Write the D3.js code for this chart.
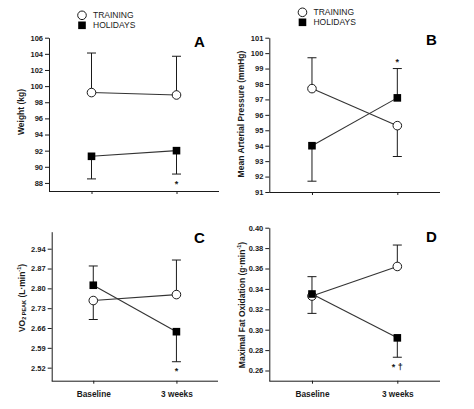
<!DOCTYPE html>
<html>
<head>
<meta charset="utf-8">
<script src="https://cdn.jsdelivr.net/npm/d3@7"></script>
<style>
  body { margin: 0; background: #fff; }
  svg { display: block; font-family: Arial, "Liberation Sans", sans-serif; }
</style>
</head>
<body>
<div id="chart"></div>
<script>
// categories on the x axis
const categories = ["Baseline", "3 weeks"];
const seriesNames = ["TRAINING", "HOLIDAYS"];

// A - weight (kg): mean and SD
const weightTraining = [99.2, 98.9];
const weightTrainingSd = [4.9, 4.8];
const weightHolidays = [91.3, 92.0];
const weightHolidaysSd = [2.8, 2.9];
const weightTicks = [88, 90, 92, 94, 96, 98, 100, 102, 104, 106];

// B - mean arterial pressure (mmHg)
const mapTraining = [97.7, 95.3];
const mapTrainingSd = [2.0, 2.0];
const mapHolidays = [94.0, 97.1];
const mapHolidaysSd = [2.3, 1.9];
const mapTicks = [91, 92, 93, 94, 95, 96, 97, 98, 99, 100, 101];

// C - VO2 peak (L/min)
const vo2Training = [2.757, 2.778];
const vo2TrainingSd = [0.067, 0.122];
const vo2Holidays = [2.811, 2.647];
const vo2HolidaysSd = [0.068, 0.106];
const vo2Ticks = [2.52, 2.59, 2.66, 2.73, 2.80, 2.87, 2.94];

// D - maximal fat oxidation (g/min)
const mfoTraining = [0.333, 0.362];
const mfoTrainingSd = [0.017, 0.021];
const mfoHolidays = [0.335, 0.292];
const mfoHolidaysSd = [0.017, 0.019];
const mfoTicks = [0.26, 0.28, 0.30, 0.32, 0.34, 0.36, 0.38, 0.40];

// significance marks at "3 weeks"
const marksA = "*", marksB = "*", marksC = "*", marksD = "* \u2020";

const W = 474, H = 409;
const svg = d3.select("#chart").append("svg")
    .attr("width", W)
    .attr("height", H);

const panels = [
  { letter: "A", left: 49, right: 219, top: 37.7, bottom: 191, domain: [87, 106],
    ticks: weightTicks, fmt: d3.format("d"), tr: weightTraining, trSd: weightTrainingSd,
    ho: weightHolidays, hoSd: weightHolidaysSd, mark: marksA, xlabels: false,
    title: ["Weight (kg)"], titleX: 21, titleY: 112, legendY: 15.3, letterX: 194, letterY: 47 },
  { letter: "B", left: 269.3, right: 440, top: 37.7, bottom: 192, domain: [91, 101],
    ticks: mapTicks, fmt: d3.format("d"), tr: mapTraining, trSd: mapTrainingSd,
    ho: mapHolidays, hoSd: mapHolidaysSd, mark: marksB, xlabels: false,
    title: ["Mean Arterial Pressure (mmHg)"], titleX: 241, titleY: 114, legendY: 12.3, letterX: 426, letterY: 45 },
  { letter: "C", left: 51.7, right: 218, top: 231.7, bottom: 380.7, domain: [2.474, 3.0],
    ticks: vo2Ticks, fmt: d3.format(".2f"), tr: vo2Training, trSd: vo2TrainingSd,
    ho: vo2Holidays, hoSd: vo2HolidaysSd, mark: marksC, xlabels: true,
    title: "vo2", titleX: 22, titleY: 298, letterX: 194, letterY: 242.5 },
  { letter: "D", left: 269.3, right: 440, top: 227.7, bottom: 380.7, domain: [0.25, 0.40],
    ticks: mfoTicks, fmt: d3.format(".2f"), tr: mfoTraining, trSd: mfoTrainingSd,
    ho: mfoHolidays, hoSd: mfoHolidaysSd, mark: marksD, xlabels: true,
    title: "mfo", titleX: 242, titleY: 305, letterX: 426, letterY: 241.5 }
];

const ink = "#1a1a1a";

panels.forEach(function(p) {
  const g = svg.append("g");

  const x = d3.scalePoint().domain(categories).range([p.left, p.right]).padding(0.5);
  const y = d3.scaleLinear().domain(p.domain).range([p.bottom, p.top]);

  // y axis
  const yAxis = g.append("g")
      .attr("transform", "translate(" + p.left + ",0)")
      .call(d3.axisLeft(y).tickValues(p.ticks).tickFormat(p.fmt).tickSize(4).tickSizeOuter(0).tickPadding(2));
  yAxis.selectAll("text").attr("font-size", 7.5).attr("font-weight", "bold").attr("fill", ink);
  yAxis.selectAll("line,path").attr("stroke", ink);

  // x axis
  const xAxis = g.append("g")
      .attr("transform", "translate(0," + p.bottom + ")")
      .call(d3.axisBottom(x).tickSize(3).tickSizeOuter(0).tickPadding(7)
        .tickFormat(p.xlabels ? null : ""));
  xAxis.select(".domain").attr("d", "M" + p.left + ",0.5H" + p.right);
  xAxis.selectAll("text").attr("font-size", 8.3).attr("font-weight", "bold").attr("fill", ink);
  xAxis.selectAll("line,path").attr("stroke", ink);

  // series
  const series = [
    { vals: p.tr, sd: p.trSd, other: p.ho, type: "circle" },
    { vals: p.ho, sd: p.hoSd, other: p.tr, type: "square" }
  ];

  // error bars point away from the other series
  series.forEach(function(s) {
    s.ends = [];
    s.vals.forEach(function(v, i) {
      const dir = v >= s.other[i] ? 1 : -1;
      const end = v + dir * s.sd[i];
      const cx = x(categories[i]);
      g.append("line")
          .attr("x1", cx).attr("x2", cx)
          .attr("y1", y(v)).attr("y2", y(end))
          .attr("stroke", ink).attr("stroke-width", 1);
      g.append("line")
          .attr("x1", cx - 4.5).attr("x2", cx + 4.5)
          .attr("y1", y(end)).attr("y2", y(end))
          .attr("stroke", ink).attr("stroke-width", 1);
      s.ends[i] = { end: end, dir: dir };
    });
  });

  const line = d3.line()
      .x(function(d, i) { return x(categories[i]); })
      .y(function(d) { return y(d); });

  series.forEach(function(s) {
    g.append("path")
        .datum(s.vals)
        .attr("d", line)
        .attr("fill", "none")
        .attr("stroke", "#333")
        .attr("stroke-width", 1.1);
  });

  // markers
  series.forEach(function(s) {
    s.vals.forEach(function(v, i) {
      drawMarker(g, s.type, x(categories[i]), y(v));
    });
  });

  // significance mark at 3 weeks, beyond the holidays error bar
  const hEnd = series[1].ends[1];
  const markY = hEnd.dir < 0 ? y(hEnd.end) + 12.5 : y(hEnd.end) - 4;
  g.append("text")
      .attr("x", x(categories[1]))
      .attr("y", markY)
      .attr("text-anchor", "middle")
      .attr("font-size", 9)
      .attr("font-weight", "bold")
      .attr("fill", ink)
      .text(p.mark);

  // panel letter
  g.append("text")
      .attr("x", p.letterX)
      .attr("y", p.letterY)
      .attr("font-size", 15)
      .attr("font-weight", "bold")
      .attr("fill", "#000")
      .text(p.letter);

  // y axis title
  const t = g.append("text")
      .attr("transform", "translate(" + p.titleX + "," + p.titleY + ") rotate(-90)")
      .attr("text-anchor", "middle")
      .attr("dominant-baseline", "central")
      .attr("font-size", 8.5)
      .attr("font-weight", "bold")
      .attr("fill", ink);
  if (p.title === "vo2") {
    t.append("tspan").text("VO");
    t.append("tspan").attr("font-size", 5.5).attr("dy", 2).text("2 PEAK");
    t.append("tspan").attr("dy", -2).text(" (L\u00b7min");
    t.append("tspan").attr("font-size", 5.5).attr("dy", -3).text("-1");
    t.append("tspan").attr("dy", 3).text(")");
  } else if (p.title === "mfo") {
    t.append("tspan").text("Maximal Fat Oxidation (g\u00b7min");
    t.append("tspan").attr("font-size", 5.5).attr("dy", -3).text("-1");
    t.append("tspan").attr("dy", 3).text(")");
  } else {
    t.text(p.title[0]);
  }

  // legend on top panels
  if (p.legendY !== undefined) {
    const lx = x(categories[0]) - 9.5;
    seriesNames.forEach(function(name, k) {
      const ly = p.legendY + k * 10;
      drawMarker(g, k === 0 ? "circle" : "square", lx, ly);
      g.append("text")
          .attr("x", lx + 11)
          .attr("y", ly)
          .attr("dominant-baseline", "central")
          .attr("font-size", 8.5)
          .attr("fill", ink)
          .text(name);
    });
  }
});

function drawMarker(g, type, cx, cy) {
  if (type === "circle") {
    g.append("circle")
        .attr("cx", cx).attr("cy", cy).attr("r", 4.3)
        .attr("fill", "#fff").attr("stroke", ink).attr("stroke-width", 1);
  } else {
    g.append("rect")
        .attr("x", cx - 3.8).attr("y", cy - 3.8)
        .attr("width", 7.6).attr("height", 7.6)
        .attr("fill", "#000");
  }
}
</script>
</body>
</html>
